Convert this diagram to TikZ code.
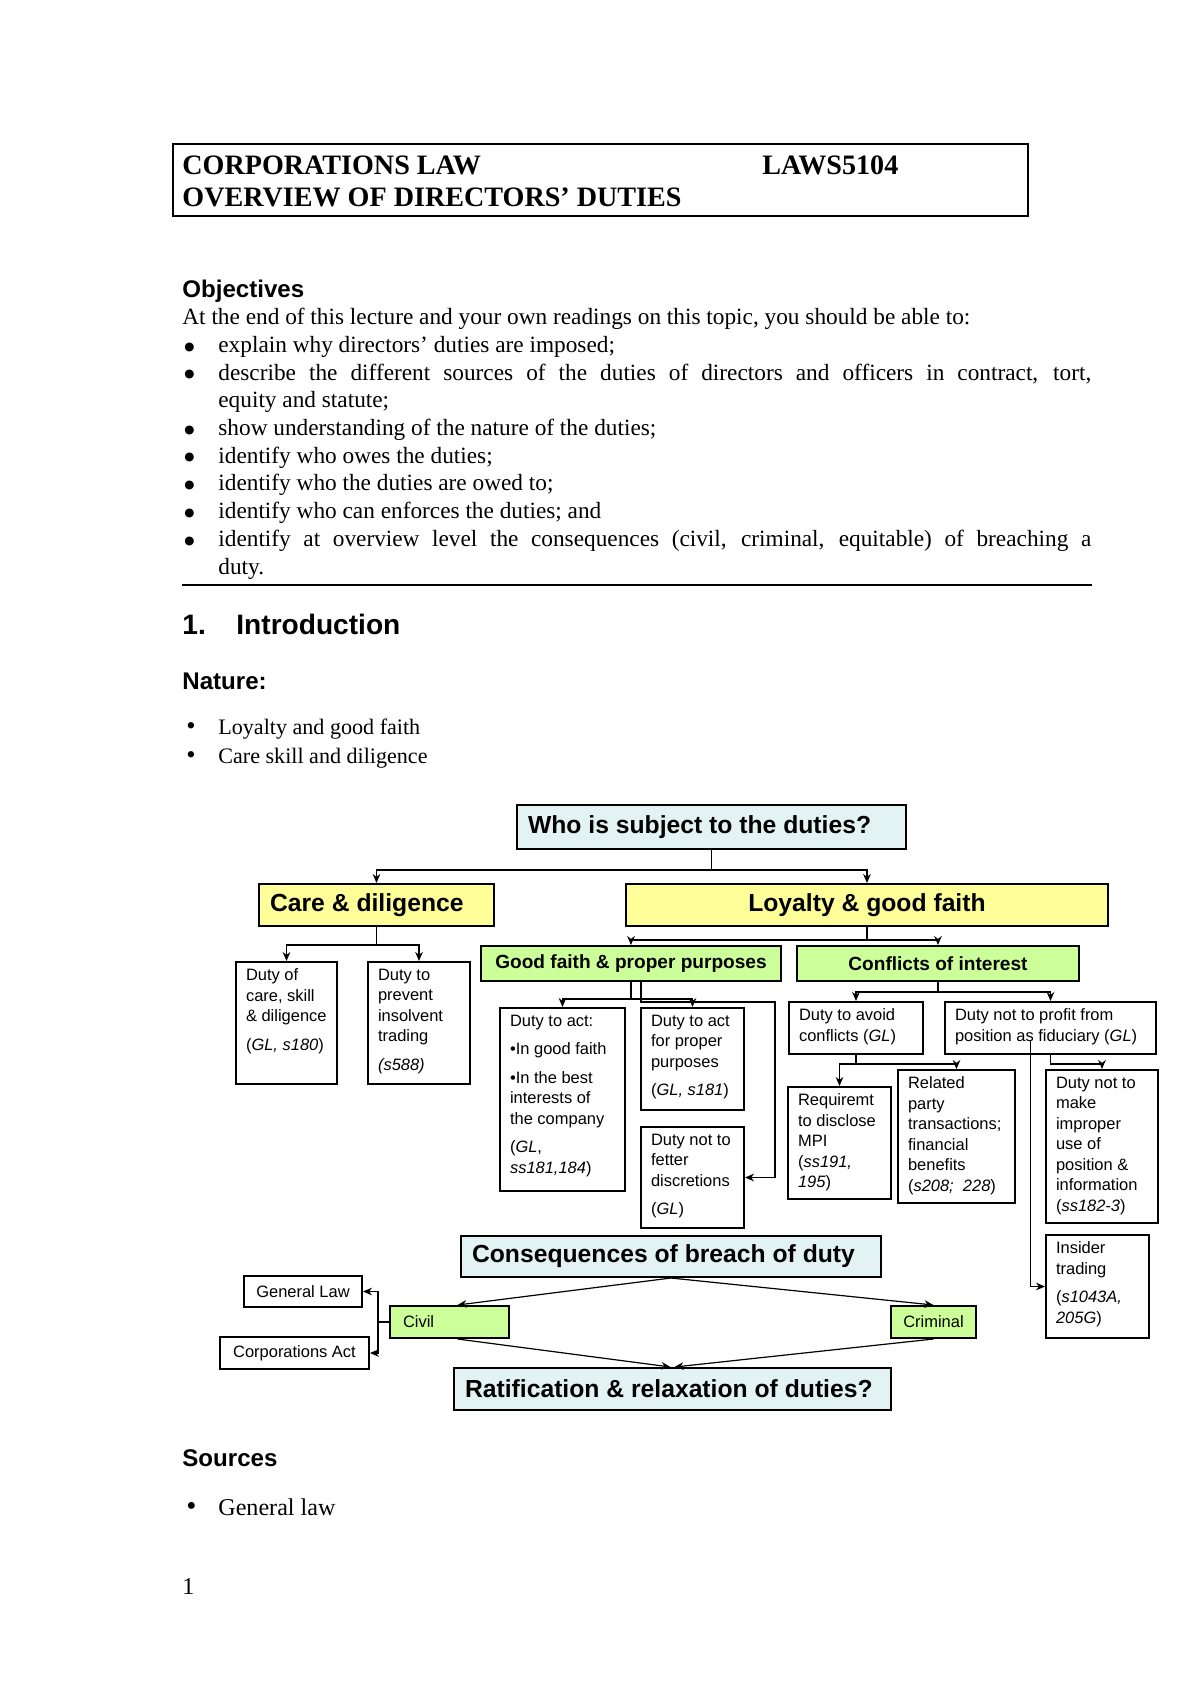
\documentclass[tikz,border=0pt]{standalone}
\usepackage{fontspec}
\setmainfont{Liberation Serif}
\setsansfont{Liberation Sans}
\newfontfamily\dotfont{DejaVu Sans}
\usetikzlibrary{arrows.meta,calc}

\newdimen\pxu \pxu=0.4979pt
\definecolor{askblue}{HTML}{E3F3F3}
\definecolor{topyellow}{HTML}{FFFF99}
\definecolor{subgreen}{HTML}{CCFF99}

\newcommand{\dutytext}[3]{\parbox[t][#2\pxu][t]{#1\pxu}{\raggedright\leftskip=5pt\relax\vspace*{3.5pt}#3}}
\newcommand{\asktext}[3]{\parbox[c][#2\pxu][c]{#1\pxu}{\leftskip=5.5pt\relax #3}}
\newcommand{\midtext}[3]{\parbox[c][#2\pxu][c]{#1\pxu}{\centering #3}}
\newcommand{\bigdot}{\raisebox{1.2pt}{\dotfont\fontsize{5.8}{6}\selectfont ●}}
\newcommand{\objitem}[1]{\par\hangindent=36\pxu\hangafter=1\noindent\makebox[36\pxu][l]{\hspace{1pt}\bigdot}#1}

\tikzset{
    >={Stealth[length=4.5pt,width=3.8pt]},
    link/.style={->, line width=0.6pt},
    ask/.style={draw, line width=1pt, fill=askblue, anchor=north west, inner sep=0pt, font=\sffamily\bfseries\fontsize{12.3}{14}\selectfont},
    topic/.style={ask, fill=topyellow},
    subtopic/.style={ask, fill=subgreen, font=\sffamily\bfseries\fontsize{9.5}{11}\selectfont},
    duty/.style={draw, line width=1pt, fill=white, anchor=north west, inner sep=0pt, font=\sffamily\fontsize{8.2}{10.2}\selectfont},
    outcome/.style={duty, fill=subgreen},
    prose/.style={anchor=base west, inner sep=0pt, font=\fontsize{12}{13.8}\selectfont},
    heading/.style={prose, font=\sffamily\bfseries\fontsize{12}{13.8}\selectfont}
}

\begin{document}
\begin{tikzpicture}[x=0.0175cm, y=-0.0175cm]
    \useasboundingbox (0,0) rectangle (1200,1698);

    % title block
    \draw[line width=1.1pt] (173,144) rectangle (1028,216);
    \node[prose, font=\bfseries\fontsize{14}{16}\selectfont] (course) at (182,174.5) {CORPORATIONS LAW};
    \node[prose, font=\bfseries\fontsize{14}{16}\selectfont] (code) at (762,174.5) {LAWS5104};
    \node[prose, font=\bfseries\fontsize{14}{16}\selectfont] (title) at (182,206) {OVERVIEW OF DIRECTORS’ DUTIES};

    \node[prose, text width=909\pxu, align=justify, font=\fontsize{11.6}{13.8}\selectfont] (objectives) at (182,297) {%
        {\sffamily\bfseries\fontsize{12}{13.8}\selectfont Objectives}\par
        \noindent At the end of this lecture and your own readings on this topic, you should be able to:
        \objitem{explain why directors’ duties are imposed;}
        \objitem{describe the different sources of the duties of directors and officers in contract, tort,\linebreak equity and statute;}
        \objitem{show understanding of the nature of the duties;}
        \objitem{identify who owes the duties;}
        \objitem{identify who the duties are owed to;}
        \objitem{identify who can enforces the duties; and}
        \objitem{identify at overview level the consequences (civil, criminal, equitable) of breaching a\linebreak duty.}\par};
    \draw[line width=1.2pt] (182,585) -- (1092,585);

    \node[heading, font=\sffamily\bfseries\fontsize{14}{16}\selectfont] (secnum) at (182,634) {1.};
    \node[heading, font=\sffamily\bfseries\fontsize{14}{16}\selectfont] (sectitle) at (236,634) {Introduction};
    \node[heading] (nature) at (182,689) {Nature:};
    \node[prose, font=\fontsize{11}{14}\selectfont] (loyalline) at (186,734) {\makebox[32\pxu][l]{\scalebox{1.2}{\textbullet}}Loyalty and good faith};
    \node[prose, font=\fontsize{11}{14}\selectfont] (careline) at (186,763) {\makebox[32\pxu][l]{\scalebox{1.2}{\textbullet}}Care skill and diligence};

    % diagram
    \node[ask] (who) at (516,804) {\asktext{389}{44}{Who is subject to the duties?}};
    \node[topic] (care) at (258,883) {\asktext{235}{42}{Care \& diligence}};
    \node[topic] (loyal) at (625,883) {\midtext{482}{42}{Loyalty \& good faith}};
    \node[subtopic] (gf) at (480,945) {\midtext{300}{35}{Good faith \& proper purposes}};
    \node[subtopic] (coi) at (796,945) {\midtext{282}{35}{Conflicts of interest}};

    \node[duty] (dcare) at (235,961) {\dutytext{101}{122}{Duty of\\care, skill\\\& diligence\\[4pt](\textit{GL, s180})}};
    \node[duty] (dinsolv) at (367,961) {\dutytext{102}{122}{Duty to\\prevent\\insolvent\\trading\\[4pt]\textit{(s588)}}};
    \node[duty] (dact) at (499,1007) {\dutytext{125}{183}{Duty to act:\\[4pt]•In good faith\\[4pt]•In the best\\interests of\\the company\\[4pt](\textit{GL},\\\textit{ss181,184})}};
    \node[duty] (dproper) at (640,1007) {\dutytext{103}{102}{Duty to act\\for proper\\purposes\\[4pt](\textit{GL, s181})}};
    \node[duty] (dfetter) at (640,1126) {\dutytext{103}{101}{Duty not to\\fetter\\discretions\\[4pt](\textit{GL})}};
    \node[duty] (davoid) at (788,1001) {\dutytext{134}{52}{Duty to avoid\\conflicts (\textit{GL})}};
    \node[duty] (dprofit) at (944,1001) {\dutytext{211}{52}{Duty not to profit from\\position as fiduciary (\textit{GL})}};
    \node[duty] (dmpi) at (787,1086) {\dutytext{103}{112}{Requiremt\\to disclose\\MPI\\(\textit{ss191,}\\\textit{195})}};
    \node[duty] (drelated) at (897,1069) {\dutytext{117}{133}{Related\\party\\transactions;\\financial\\benefits\\(\textit{s208;\ \ 228})}};
    \node[duty] (dimproper) at (1045,1069) {\dutytext{112}{153}{Duty not to\\make\\improper\\use of\\position \&\\information\\(\textit{ss182-3})}};
    \node[duty] (dinsider) at (1045,1234) {\dutytext{103}{103}{Insider\\trading\\[4pt](\textit{s1043A,}\\\textit{205G})}};

    \node[ask] (conseq) at (460,1235) {\asktext{420}{41}{Consequences of breach of duty}};
    \node[duty] (genlaw) at (243,1275) {\midtext{118}{31}{General Law}};
    \node[duty] (corpact) at (219,1336) {\midtext{149}{32}{Corporations Act}};
    \node[outcome] (civil) at (389,1305) {\asktext{119}{32}{\hspace{1pt}Civil}};
    \node[outcome] (criminal) at (890,1305) {\midtext{85}{32}{Criminal}};
    \node[ask] (ratif) at (453,1367) {\asktext{437}{42}{Ratification \& relaxation of duties?}};

    \draw[link] (who.south) -- ++(0,20) -| (care.north);
    \draw[link] (who.south) -- ++(0,20) -| (loyal.north);
    \draw[link] (care.south) -- ++(0,18) -| (dcare.north);
    \draw[link] (care.south) -- ++(0,18) -| (dinsolv.north);
    \draw[link] (loyal.south) -- ++(0,13) -| (gf.north);
    \draw[link] (loyal.south) -- ++(0,13) -| (coi.north);
    \draw[link] (gf.south) -- ++(0,17) -| (dact.north);
    \draw[link] (gf.south) -- ++(0,17) -| (dproper.north);
    \draw[link] ($(gf.south)+(10,0)$) -- ++(0,20) -| ($(dfetter.east)+(30,0)$) -- (dfetter.east);
    \draw[link] (coi.south) -- ++(0,10) -| (davoid.north);
    \draw[link] (coi.south) -- ++(0,10) -| (dprofit.north);
    \draw[link] (davoid.south) -- ++(0,9) -| (dmpi.north);
    \draw[link] (davoid.south) -- ++(0,9) -| (drelated.north);
    \draw[link] (dprofit.south) -- ++(0,9) -| (dimproper.north);
    \draw[link] ($(dprofit.south)+(-20,-15)$) |- (dinsider.west);

    \draw[link] (conseq.south) -- ([xshift=4pt]civil.north);
    \draw[link] (conseq.south) -- (criminal.north);
    \draw[link] ([xshift=4pt]civil.south) -- ([xshift=-1pt]ratif.north);
    \draw[link] (criminal.south) -- ([xshift=1pt]ratif.north);
    \draw[link] (civil.west) -- ++(-11,0) |- (genlaw.east);
    \draw[link] (civil.west) -- ++(-11,0) |- (corpact.east);

    \node[heading] (sources) at (182,1466) {Sources};
    \node[prose] (genlawline) at (186,1515) {\makebox[32\pxu][l]{\scalebox{1.2}{\textbullet}}General law};
    \node[prose] (pageno) at (182,1594) {1};
\end{tikzpicture}
\end{document}
